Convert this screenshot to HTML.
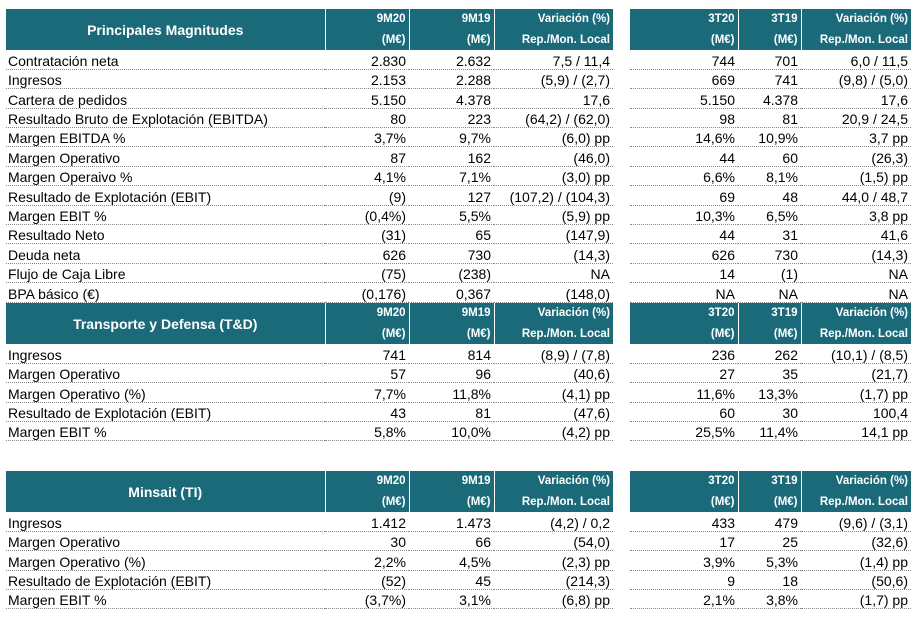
<!DOCTYPE html>
<html><head><meta charset="utf-8"><style>
body{margin:0;width:922px;height:617px;background:#fff;position:relative;overflow:hidden;font-family:"Liberation Sans",Arial,sans-serif;}
table{position:absolute;border-collapse:collapse;table-layout:fixed;}
tr{height:19.4px;}
td{padding:0 3px 0 2px;font-size:14px;color:#000;line-height:16px;white-space:nowrap;text-align:right;border-bottom:1px dotted #888;overflow:hidden;vertical-align:bottom;}
td.l{text-align:left;padding-left:2px;}
tr.h{height:20.5px;}
th{background:#1b6a7a;color:#fff;font-size:11.5px;font-weight:bold;text-align:right;padding:0 3px;line-height:16px;border-left:1px solid #fff;white-space:nowrap;}
th.t{text-align:center;font-size:14px;border-left:none;}
</style></head><body>

<table style="left:6px;top:9px;width:607px">
<colgroup><col style="width:319px"><col style="width:84px"><col style="width:85px"><col style="width:119px"></colgroup>
<tr class="h"><th class="t" rowspan="2">Principales Magnitudes</th><th>9M20</th><th>9M19</th><th>Variación (%)</th></tr>
<tr class="h"><th>(M€)</th><th>(M€)</th><th>Rep./Mon. Local</th></tr>
<tr><td class="l">Contratación neta</td><td>2.830</td><td>2.632</td><td>7,5 / 11,4</td></tr>
<tr><td class="l">Ingresos</td><td>2.153</td><td>2.288</td><td>(5,9) / (2,7)</td></tr>
<tr><td class="l">Cartera de pedidos</td><td>5.150</td><td>4.378</td><td>17,6</td></tr>
<tr><td class="l">Resultado Bruto de Explotación (EBITDA)</td><td>80</td><td>223</td><td>(64,2) / (62,0)</td></tr>
<tr><td class="l">Margen EBITDA %</td><td>3,7%</td><td>9,7%</td><td>(6,0) pp</td></tr>
<tr><td class="l">Margen Operativo</td><td>87</td><td>162</td><td>(46,0)</td></tr>
<tr><td class="l">Margen Operaivo %</td><td>4,1%</td><td>7,1%</td><td>(3,0) pp</td></tr>
<tr><td class="l">Resultado de Explotación (EBIT)</td><td>(9)</td><td>127</td><td>(107,2) / (104,3)</td></tr>
<tr><td class="l">Margen EBIT %</td><td>(0,4%)</td><td>5,5%</td><td>(5,9) pp</td></tr>
<tr><td class="l">Resultado Neto</td><td>(31)</td><td>65</td><td>(147,9)</td></tr>
<tr><td class="l">Deuda neta</td><td>626</td><td>730</td><td>(14,3)</td></tr>
<tr><td class="l">Flujo de Caja Libre</td><td>(75)</td><td>(238)</td><td>NA</td></tr>
<tr><td class="l">BPA básico (€)</td><td>(0,176)</td><td>0,367</td><td>(148,0)</td></tr>
</table>

<table style="left:630px;top:9px;width:281px">
<colgroup><col style="width:108px"><col style="width:63px"><col style="width:110px"></colgroup>
<tr class="h"><th style="border-left:none">3T20</th><th>3T19</th><th>Variación (%)</th></tr>
<tr class="h"><th style="border-left:none">(M€)</th><th>(M€)</th><th>Rep./Mon. Local</th></tr>
<tr><td>744</td><td>701</td><td>6,0 / 11,5</td></tr>
<tr><td>669</td><td>741</td><td>(9,8) / (5,0)</td></tr>
<tr><td>5.150</td><td>4.378</td><td>17,6</td></tr>
<tr><td>98</td><td>81</td><td>20,9 / 24,5</td></tr>
<tr><td>14,6%</td><td>10,9%</td><td>3,7 pp</td></tr>
<tr><td>44</td><td>60</td><td>(26,3)</td></tr>
<tr><td>6,6%</td><td>8,1%</td><td>(1,5) pp</td></tr>
<tr><td>69</td><td>48</td><td>44,0 / 48,7</td></tr>
<tr><td>10,3%</td><td>6,5%</td><td>3,8 pp</td></tr>
<tr><td>44</td><td>31</td><td>41,6</td></tr>
<tr><td>626</td><td>730</td><td>(14,3)</td></tr>
<tr><td>14</td><td>(1)</td><td>NA</td></tr>
<tr><td>NA</td><td>NA</td><td>NA</td></tr>
</table>

<table style="left:6px;top:303px;width:607px">
<colgroup><col style="width:319px"><col style="width:84px"><col style="width:85px"><col style="width:119px"></colgroup>
<tr class="h"><th class="t" rowspan="2">Transporte y Defensa (T&amp;D)</th><th>9M20</th><th>9M19</th><th>Variación (%)</th></tr>
<tr class="h"><th>(M€)</th><th>(M€)</th><th>Rep./Mon. Local</th></tr>
<tr><td class="l">Ingresos</td><td>741</td><td>814</td><td>(8,9) / (7,8)</td></tr>
<tr><td class="l">Margen Operativo</td><td>57</td><td>96</td><td>(40,6)</td></tr>
<tr><td class="l">Margen Operativo (%)</td><td>7,7%</td><td>11,8%</td><td>(4,1) pp</td></tr>
<tr><td class="l">Resultado de Explotación (EBIT)</td><td>43</td><td>81</td><td>(47,6)</td></tr>
<tr><td class="l">Margen EBIT %</td><td>5,8%</td><td>10,0%</td><td>(4,2) pp</td></tr>
</table>

<table style="left:630px;top:303px;width:281px">
<colgroup><col style="width:108px"><col style="width:63px"><col style="width:110px"></colgroup>
<tr class="h"><th style="border-left:none">3T20</th><th>3T19</th><th>Variación (%)</th></tr>
<tr class="h"><th style="border-left:none">(M€)</th><th>(M€)</th><th>Rep./Mon. Local</th></tr>
<tr><td>236</td><td>262</td><td>(10,1) / (8,5)</td></tr>
<tr><td>27</td><td>35</td><td>(21,7)</td></tr>
<tr><td>11,6%</td><td>13,3%</td><td>(1,7) pp</td></tr>
<tr><td>60</td><td>30</td><td>100,4</td></tr>
<tr><td>25,5%</td><td>11,4%</td><td>14,1 pp</td></tr>
</table>

<table style="left:6px;top:471px;width:607px">
<colgroup><col style="width:319px"><col style="width:84px"><col style="width:85px"><col style="width:119px"></colgroup>
<tr class="h"><th class="t" rowspan="2">Minsait (TI)</th><th>9M20</th><th>9M19</th><th>Variación (%)</th></tr>
<tr class="h"><th>(M€)</th><th>(M€)</th><th>Rep./Mon. Local</th></tr>
<tr><td class="l">Ingresos</td><td>1.412</td><td>1.473</td><td>(4,2) / 0,2</td></tr>
<tr><td class="l">Margen Operativo</td><td>30</td><td>66</td><td>(54,0)</td></tr>
<tr><td class="l">Margen Operativo (%)</td><td>2,2%</td><td>4,5%</td><td>(2,3) pp</td></tr>
<tr><td class="l">Resultado de Explotación (EBIT)</td><td>(52)</td><td>45</td><td>(214,3)</td></tr>
<tr><td class="l">Margen EBIT %</td><td>(3,7%)</td><td>3,1%</td><td>(6,8) pp</td></tr>
</table>

<table style="left:630px;top:471px;width:281px">
<colgroup><col style="width:108px"><col style="width:63px"><col style="width:110px"></colgroup>
<tr class="h"><th style="border-left:none">3T20</th><th>3T19</th><th>Variación (%)</th></tr>
<tr class="h"><th style="border-left:none">(M€)</th><th>(M€)</th><th>Rep./Mon. Local</th></tr>
<tr><td>433</td><td>479</td><td>(9,6) / (3,1)</td></tr>
<tr><td>17</td><td>25</td><td>(32,6)</td></tr>
<tr><td>3,9%</td><td>5,3%</td><td>(1,4) pp</td></tr>
<tr><td>9</td><td>18</td><td>(50,6)</td></tr>
<tr><td>2,1%</td><td>3,8%</td><td>(1,7) pp</td></tr>
</table>
</body></html>
